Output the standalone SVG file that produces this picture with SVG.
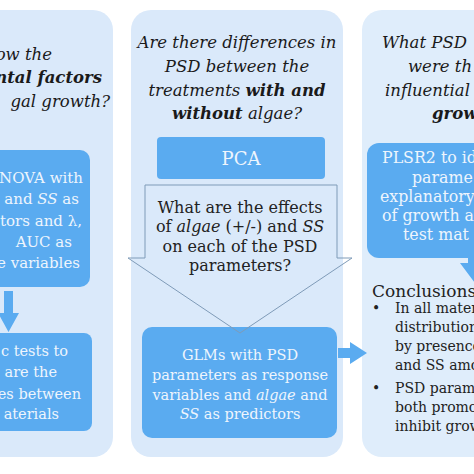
<svg xmlns="http://www.w3.org/2000/svg" width="474" height="474" viewBox="0 0 474 474">
<defs>
<style>
.panel{fill:#dae9fa}
.panelR{fill:#dfedfb}
.box{fill:#5aabf0}
.t{font-family:"DejaVu Serif","Liberation Serif",serif}
.title{font-size:16.5px;font-style:italic;fill:#1a1a1a}
.b{font-weight:bold}
.w{fill:#eef5fd}
.dk{fill:#222}
.i{font-style:italic}
.arr{fill:#5aabf0}
</style>
</defs>
<rect width="474" height="474" fill="#ffffff"/>
<g id="panel-left"><rect class="panel" x="-30" y="10" width="143" height="447" rx="20"/>
<text class="t title" text-anchor="end"><tspan x="52" y="60">ow the</tspan><tspan x="102" y="83" class="b">ntal factors</tspan><tspan x="110" y="107">gal growth?</tspan></text>
</g>
<g id="panel-middle"><rect class="panel" x="131" y="10" width="212" height="447" rx="20"/>
<text class="t title" text-anchor="middle"><tspan x="237" y="48">Are there differences in</tspan><tspan x="237" y="72">PSD between the</tspan><tspan x="237" y="96">treatments <tspan class="b">with and</tspan></tspan><tspan x="237" y="119"><tspan class="b">without</tspan> algae?</tspan></text>
</g>
<g id="panel-right"><rect class="panelR" x="362" y="10" width="150" height="447" rx="20"/>
<text class="t title"><tspan x="382" y="48">What PSD</tspan><tspan x="408" y="72">were th</tspan><tspan x="385" y="96">influential</tspan><tspan x="432" y="119" class="b">grow</tspan></text>
</g>
<g id="anova"><rect class="box" x="-20" y="150" width="110" height="137" rx="10"/>
<text class="t w" font-size="15" text-anchor="end"><tspan x="83" y="183">NOVA with</tspan><tspan x="79" y="204">and <tspan class="i">SS</tspan> as</tspan><tspan x="82" y="226">tors and λ,</tspan><tspan x="72" y="247">AUC as</tspan><tspan x="80" y="268">e variables</tspan></text>
</g>
<g id="posthoc"><rect class="box" x="-20" y="333" width="112" height="98" rx="8"/>
<text class="t w" font-size="14.5" text-anchor="end"><tspan x="68" y="356">c tests to</tspan><tspan x="57" y="377">are the</tspan><tspan x="81" y="399">es between</tspan><tspan x="59" y="419">aterials</tspan></text>
</g>
<g id="pca"><rect class="box" x="157" y="137" width="168" height="42" rx="4"/>
<text class="t w" font-size="18" x="241" y="165" text-anchor="middle">PCA</text>
</g>
<g id="glm"><rect class="box" x="142" y="327" width="195" height="111" rx="10"/>
<text class="t w" font-size="14.5" text-anchor="middle"><tspan x="240" y="360">GLMs with PSD</tspan><tspan x="240" y="380">parameters as response</tspan><tspan x="240" y="400">variables and <tspan class="i">algae</tspan> and</tspan><tspan x="240" y="419"><tspan class="i">SS</tspan> as predictors</tspan></text>
</g>
<g id="question-arrow"><polygon points="145,185 145,258 128,258 240,333 352,258 337,258 337,185" fill="none" stroke="#7f9bb8" stroke-width="1"/>
<text class="t dk" font-size="16" text-anchor="middle"><tspan x="240" y="213">What are the effects</tspan><tspan x="240" y="232">of <tspan class="i">algae</tspan> (+/-) and <tspan class="i">SS</tspan></tspan><tspan x="240" y="252">on each of the PSD</tspan><tspan x="240" y="271">parameters?</tspan></text>
</g>
<g id="plsr"><rect class="box" x="367" y="143" width="140" height="115" rx="12"/>
<text class="t w" font-size="15.8"><tspan x="382" y="163">PLSR2 to id</tspan><tspan x="412" y="183">parame</tspan><tspan x="380" y="202">explanatory</tspan><tspan x="382" y="221">of growth a</tspan><tspan x="403" y="240">test mat</tspan></text>
</g>
<g id="conclusions">
<text class="t dk" font-size="17" x="372" y="297">Conclusions</text>
<text class="t dk" font-size="14"><tspan x="372" y="313">•</tspan><tspan x="395" y="313">In all mater</tspan><tspan x="395" y="332">distribution</tspan><tspan x="395" y="351">by presence</tspan><tspan x="395" y="370">and SS amo</tspan><tspan x="372" y="393">•</tspan><tspan x="395" y="393">PSD param</tspan><tspan x="395" y="412">both promo</tspan><tspan x="395" y="431">inhibit grow</tspan></text>
</g>
<g id="connectors">
<polygon class="arr" points="4,291 13,291 13,313 19,313 8.5,332 -2,313 4,313"/>
<polygon class="arr" points="338,348 350,348 350,342 367,353 350,364 350,358 338,358"/>
<polygon class="arr" points="468,257 488,257 488,263 496,263 478,287 460,263 468,263"/>
</g>
</svg>
